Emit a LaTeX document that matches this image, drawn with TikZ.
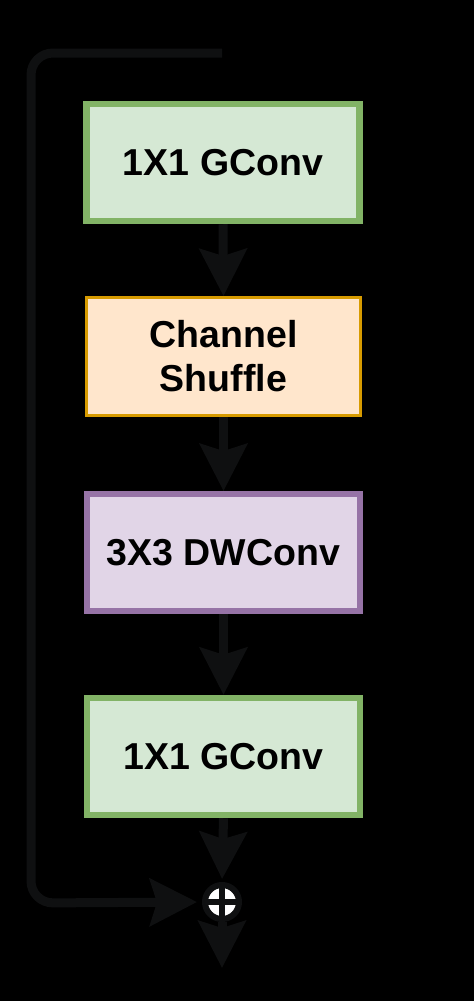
\documentclass[tikz,border=0pt]{standalone}
\usepackage{fontspec}
\setmainfont{Liberation Sans}
\usetikzlibrary{arrows.meta}
\definecolor{linec}{RGB}{15,16,17}
\definecolor{gfill}{HTML}{D5E8D4}
\definecolor{gline}{HTML}{82B366}
\definecolor{ofill}{HTML}{FFE6CC}
\definecolor{oline}{HTML}{D79B00}
\definecolor{pfill}{HTML}{E1D5E7}
\definecolor{pline}{HTML}{9673A6}
\begin{document}
\begin{tikzpicture}[x=1pt,y=-1pt,
  blockbox/.style={rectangle, minimum width=273pt, minimum height=117pt, inner sep=0pt,
    align=center, font=\fontsize{37.5}{44}\selectfont\bfseries, text=black},
  greenbox/.style={blockbox, fill=gfill, draw=gline, line width=6.5pt},
  orangebox/.style={blockbox, fill=ofill, draw=oline, line width=3pt, minimum width=274pt, minimum height=118pt},
  purplebox/.style={blockbox, fill=pfill, draw=pline, line width=6pt},
  conn/.style={draw=linec, line width=9pt, -{Stealth[length=47pt,width=47pt,inset=7pt]}},
  sumnode/.style={circle, minimum size=34pt, inner sep=0pt, fill=white, draw=linec, line width=6pt}
]
\fill[black] (0,0) rectangle (474,1001);
\useasboundingbox (0,0) rectangle (474,1001);
\node[greenbox] (g1) at (223,162.5) {1X1 GConv};
\node[orangebox] (cs) at (223.5,356.5) {Channel\\Shuffle};
\node[purplebox] (dw) at (223.5,552.5) {3X3 DWConv};
\node[greenbox] (g2) at (223.5,756.5) {1X1 GConv};
\node[sumnode] (sum) at (222,902) {};
\draw[linec, line width=6pt] (sum.north) -- (sum.south) (sum.west) -- (sum.east);
\coordinate (in) at (222,53);
\coordinate (out) at (222,968);
\draw[conn] (g1.south) -- (cs.north);
\draw[conn] (cs.south) -- (dw.north);
\draw[conn] (dw.south) -- (g2.north);
\draw[conn, shorten >=3pt] (g2.south) -- (sum.north);
\draw[conn, rounded corners=22pt, shorten >=5pt] (in) -- (31,53) -- (31,903) -- (sum.west);
\draw[conn] (sum.south) -- (out);
\end{tikzpicture}
\end{document}
